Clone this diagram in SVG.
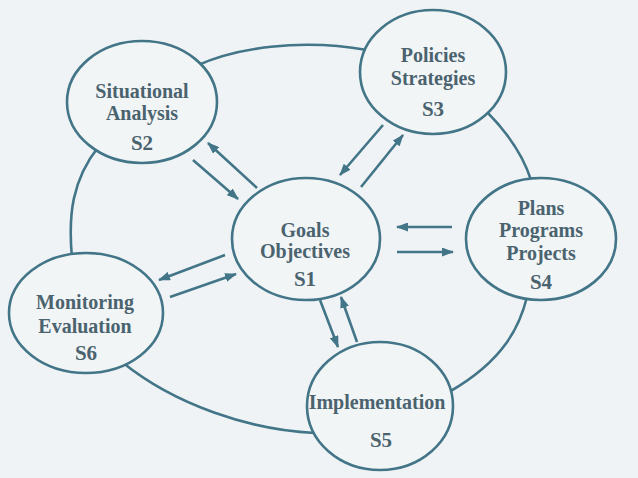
<svg xmlns="http://www.w3.org/2000/svg" width="638" height="478" viewBox="0 0 638 478">
  <style>
    .bg { fill: #f0f3f5; }
    .node { fill: #f2f5f6; stroke: #427587; stroke-width: 2.6; }
    .lbl { font-family: "Liberation Serif", "Times New Roman", serif; font-weight: bold; font-size: 20px; fill: #4a636f; text-anchor: middle; }
    .num { font-size: 21px; }
    .loop { fill: none; stroke: #427587; stroke-width: 2.6; stroke-linecap: round; }
    .arr { fill: none; stroke: #427587; stroke-width: 2.6; marker-end: url(#head); }
  </style>
  <defs>
    <marker id="head" markerUnits="userSpaceOnUse" markerWidth="12" markerHeight="9" refX="11" refY="4.5" orient="auto">
      <path d="M0,0 L12,4.5 L0,9 Z" fill="#427587"/>
    </marker>
  </defs>
  <rect class="bg" x="0" y="0" width="638" height="478"/>

  <g id="connectors">
    <path class="loop" d="M196,66 C235,48 300,38 367,50"/>
    <path class="loop" d="M486,111 C505,130 522,152 531,180"/>
    <path class="loop" d="M527,297 C520,325 505,360 449,392"/>
    <path class="loop" d="M315,433 C250,430 175,405 122,362"/>
    <path class="loop" d="M72,258 C68,215 72,180 99,146"/>

    <line class="arr" x1="257" y1="188" x2="208" y2="143"/>
    <line class="arr" x1="193" y1="160" x2="238" y2="199"/>
    <line class="arr" x1="383" y1="125" x2="340" y2="175"/>
    <line class="arr" x1="361" y1="187" x2="403" y2="135"/>
    <line class="arr" x1="452" y1="227" x2="397" y2="227"/>
    <line class="arr" x1="397" y1="252" x2="453" y2="252"/>
    <line class="arr" x1="225" y1="255" x2="159" y2="280"/>
    <line class="arr" x1="170" y1="297" x2="236" y2="274"/>
    <line class="arr" x1="320" y1="300" x2="338" y2="347"/>
    <line class="arr" x1="357" y1="342" x2="341" y2="297"/>
  </g>

  <g id="S2">
    <ellipse class="node" cx="142" cy="102" rx="75" ry="61"/>
    <text class="lbl" x="142" y="98">Situational</text>
    <text class="lbl" x="142" y="120">Analysis</text>
    <text class="lbl num" x="142" y="150">S2</text>
  </g>
  <g id="S3">
    <ellipse class="node" cx="433" cy="72" rx="73" ry="62"/>
    <text class="lbl" x="433" y="62">Policies</text>
    <text class="lbl" x="433" y="85">Strategies</text>
    <text class="lbl num" x="433" y="116">S3</text>
  </g>
  <g id="S1">
    <ellipse class="node" cx="306" cy="239" rx="74" ry="61"/>
    <text class="lbl" x="305" y="237">Goals</text>
    <text class="lbl" x="305" y="258">Objectives</text>
    <text class="lbl num" x="305" y="286">S1</text>
  </g>
  <g id="S4">
    <ellipse class="node" cx="541" cy="239" rx="75" ry="61"/>
    <text class="lbl" x="541" y="215">Plans</text>
    <text class="lbl" x="541" y="237">Programs</text>
    <text class="lbl" x="541" y="260">Projects</text>
    <text class="lbl num" x="541" y="289">S4</text>
  </g>
  <g id="S6">
    <ellipse class="node" cx="86" cy="313" rx="77" ry="60"/>
    <text class="lbl" x="85" y="309">Monitoring</text>
    <text class="lbl" x="85" y="333">Evaluation</text>
    <text class="lbl num" x="86" y="360">S6</text>
  </g>
  <g id="S5">
    <ellipse class="node" cx="380" cy="406" rx="73" ry="64"/>
    <text class="lbl" x="377" y="409">Implementation</text>
    <text class="lbl num" x="381" y="447">S5</text>
  </g>
</svg>
